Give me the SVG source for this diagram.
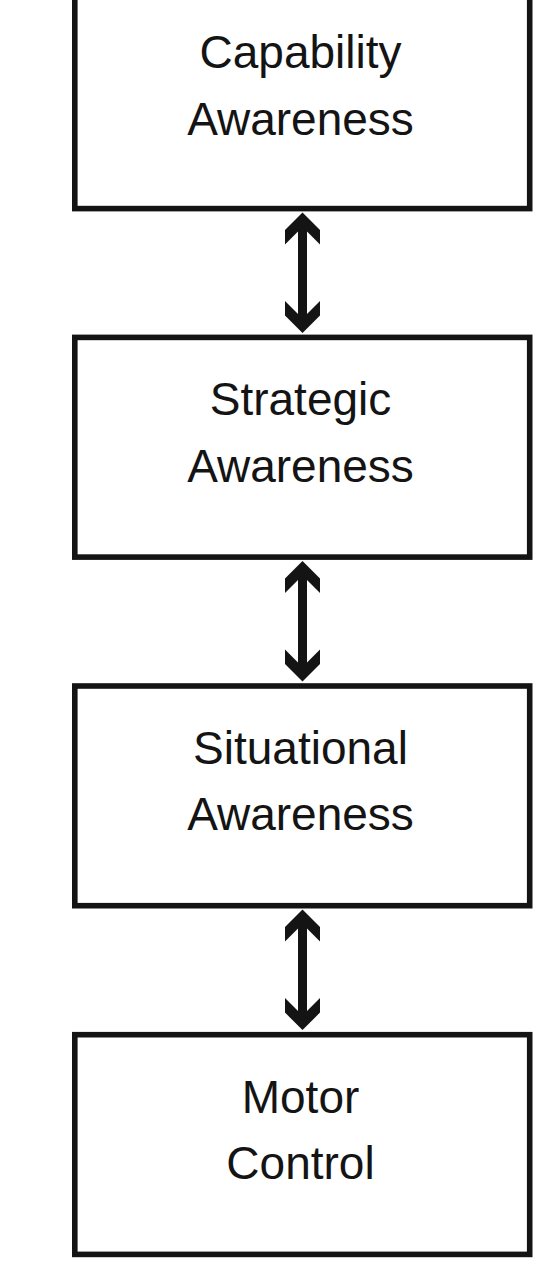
<svg xmlns="http://www.w3.org/2000/svg" width="557" height="1284" viewBox="0 0 557 1284">
<style>
.box{fill:#fff;stroke:#141414;stroke-width:5.6}
.lbl{font-family:"Liberation Sans",Arial,Helvetica,sans-serif;font-size:46px;fill:#141414;text-anchor:middle}
.conn{stroke:#141414;stroke-width:9;fill:none;marker-start:url(#chev);marker-end:url(#chev)}
</style>
<defs>
<marker id="chev" markerUnits="userSpaceOnUse" orient="auto-start-reverse" refX="0" refY="0" markerWidth="40" markerHeight="40" overflow="visible">
<path d="M12,0 L-5.5,-17.5 L-20,-17.5 L-2.5,0 L-20,17.5 L-5.5,17.5 Z" fill="#141414"/>
</marker>
</defs>
<rect width="557" height="1284" fill="#fff"/>
<g id="capability-awareness">
<rect class="box" x="74.8" y="-11.1" width="454.9" height="219.7"/>
<text class="lbl" x="300.5" y="68">Capability</text>
<text class="lbl" x="300.5" y="134.6">Awareness</text>
</g>
<g id="strategic-awareness">
<rect class="box" x="74.8" y="337.4" width="454.9" height="219.7"/>
<text class="lbl" x="300.5" y="415.2">Strategic</text>
<text class="lbl" x="300.5" y="481.8">Awareness</text>
</g>
<g id="situational-awareness">
<rect class="box" x="74.8" y="686" width="454.9" height="219.7"/>
<text class="lbl" x="300.5" y="763.8">Situational</text>
<text class="lbl" x="300.5" y="830.4">Awareness</text>
</g>
<g id="motor-control">
<rect class="box" x="74.8" y="1034.7" width="454.9" height="219.7"/>
<text class="lbl" x="300.5" y="1112.7">Motor</text>
<text class="lbl" x="300.5" y="1179.3">Control</text>
</g>
<g id="connectors">
<line class="conn" x1="302.5" y1="224.5" x2="302.5" y2="321"/>
<line class="conn" x1="302.5" y1="573" x2="302.5" y2="669.5"/>
<line class="conn" x1="302.5" y1="921.6" x2="302.5" y2="1018.1"/>
</g>
</svg>
